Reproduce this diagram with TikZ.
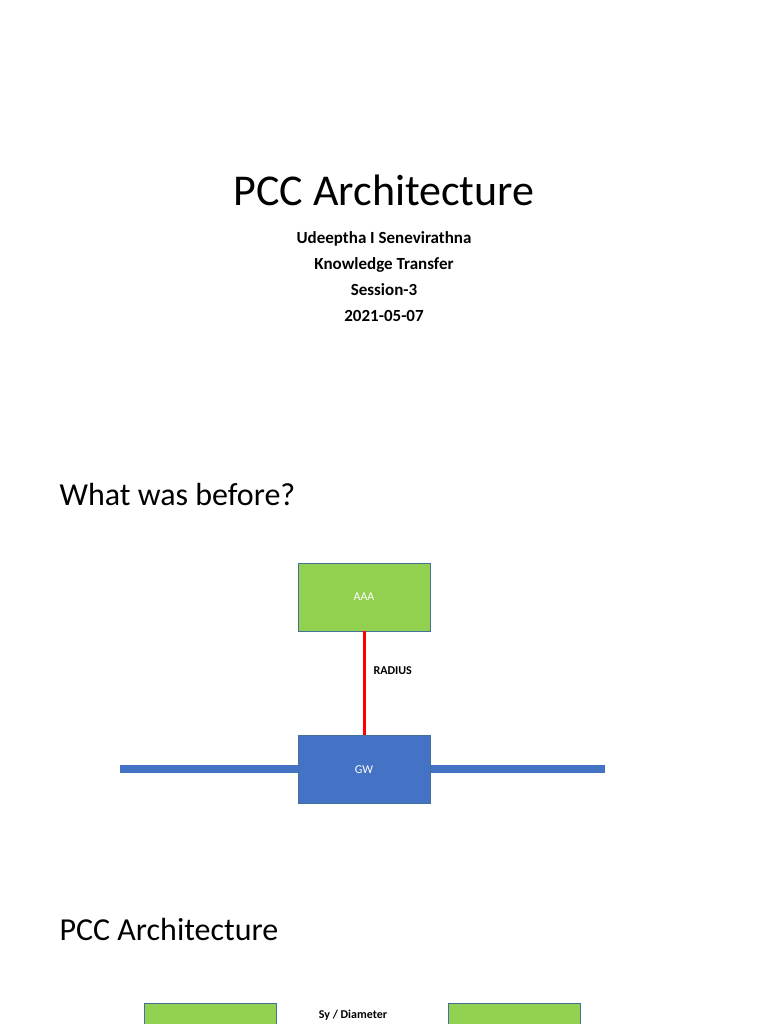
\documentclass[tikz,border=0pt]{standalone}
\usepackage{fontspec}
\setmainfont{Carlito}
\definecolor{grn}{HTML}{92D050}
\definecolor{blu}{HTML}{4472C4}
\definecolor{edg}{HTML}{41719C}
\begin{document}
\begin{tikzpicture}[x=1pt,y=-1pt,
  box/.style={draw=edg,line width=0.8pt,minimum width=132pt,minimum height=68pt,text=white,font=\fontsize{12}{14}\selectfont},
  gbox/.style={box,fill=grn},
  bbox/.style={box,fill=blu}]
\useasboundingbox (0,0) rectangle (768,1024);
\node (title) at (384,190) {\fontsize{44}{50}\selectfont PCC Architecture};
\node[align=center,font=\bfseries\fontsize{17}{26}\selectfont] (sub) at (384,277) {Udeeptha I Senevirathna\\Knowledge Transfer\\Session-3\\2021-05-07};
\node[anchor=west] (h1) at (56,495) {\fontsize{32}{38}\selectfont What was before?};
\coordinate (l) at (120,769);
\coordinate (r) at (605,769);
\draw[blu,line width=8pt] (l) -- (r);
\node[gbox] (aaa) at (364,597) {AAA};
\node[bbox] (gw) at (364,769.5) {GW};
\draw[red,line width=3pt] (aaa.south) -- (gw.north);
\node[anchor=west,font=\bfseries\fontsize{12}{14}\selectfont] (rad) at (370,671) {RADIUS};
\node[anchor=west] (h2) at (56,929) {\fontsize{32}{38}\selectfont PCC Architecture};
\node[gbox,anchor=north] (b1) at (210.5,1003) {};
\node[gbox,anchor=north] (b2) at (514.5,1003) {};
\node[font=\bfseries\fontsize{12}{14}\selectfont] (sy) at (353,1015) {Sy / Diameter};
\end{tikzpicture}
\end{document}
